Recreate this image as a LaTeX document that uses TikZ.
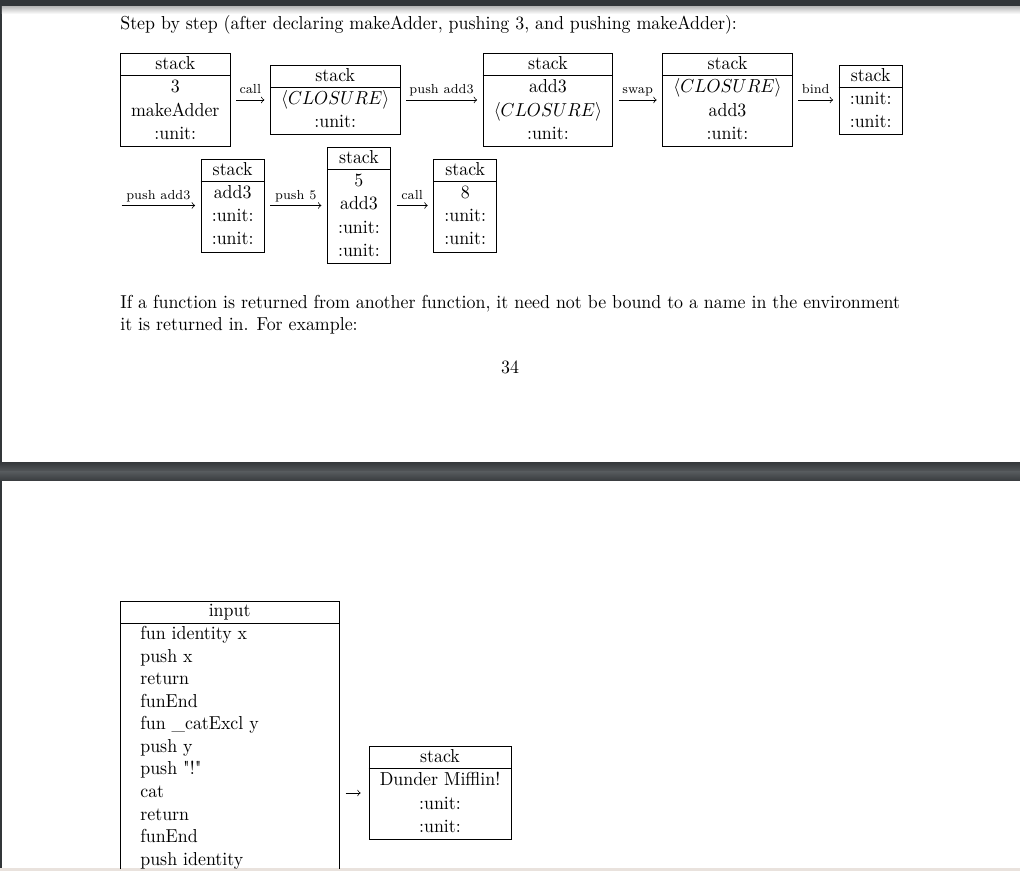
\documentclass[tikz,border=0pt]{standalone}
\usepackage{fontspec}
\usepackage{tikz}
\usetikzlibrary{shapes,shapes.multipart}
\usetikzlibrary{calc,arrows,positioning}

\definecolor{viewerbg}{HTML}{323639}
\definecolor{gapdark}{HTML}{383B3E}
\definecolor{gaplight}{HTML}{55595C}
\definecolor{pageedge}{HTML}{E9E2DD}

\newcommand{\rowstrut}{\vrule height 8.4pt depth 3.6pt width 0pt}
\newcommand{\linestrut}{\vrule height 8.2pt depth 3.45pt width 0pt}

\tikzset{
	stackbox/.style={rectangle split, rectangle split parts=#1,
		rectangle split draw splits=false, draw, inner xsep=6pt,
		inner ysep=0pt, font=\rowstrut},
	inputbox/.style={stackbox=12, rectangle split part align={center,left},
		inner xsep=11.2pt, minimum width=122.3pt, font=\linestrut},
	steparrow/.style={->, shorten <=3pt, shorten >=3pt},
	steplabel/.style={font=\scriptsize, anchor=base, inner sep=0pt, yshift=3.2pt},
	textline/.style={anchor=base west, inner sep=0pt}
}

\begin{document}
\begin{tikzpicture}[x=0.5596pt, y=-0.5333pt, xscale=0.953,
	every node/.append style={transform shape}]
\useasboundingbox (0,0) rectangle (1020,871);
%% viewer and pages
\fill[viewerbg] (0,0) rectangle (1020,871);
\fill[white] (2,7) rectangle (1020,463);
\shade[top color=black!25, bottom color=white] (2,7) rectangle (1020,14);
\shade[top color=gapdark, bottom color=gaplight] (0,463) rectangle (1020,472);
\shade[top color=gaplight, bottom color=gapdark] (0,472) rectangle (1020,481);
\fill[white] (2,481) rectangle (1020,868);
\fill[pageedge] (0,868) rectangle (1020,871);

%% page 34
\node[textline] (intro) at (120,29.3) {Step by step (after declaring makeAdder, pushing 3, and pushing makeAdder):};

\node[stackbox=4, anchor=west] (s1) at (120,100) {stack \nodepart{two} 3 \nodepart{three} makeAdder \nodepart{four} :unit:};
\node[stackbox=3, anchor=west] (s2) at (270,100) {stack \nodepart{two} $\langle CLOSURE\rangle$ \nodepart{three} :unit:};
\node[stackbox=4, anchor=west] (s3) at (482.7,100) {stack \nodepart{two} add3 \nodepart{three} $\langle CLOSURE\rangle$ \nodepart{four} :unit:};
\node[stackbox=4, anchor=west] (s4) at (662.3,100) {stack \nodepart{two} $\langle CLOSURE\rangle$ \nodepart{three} add3 \nodepart{four} :unit:};
\node[stackbox=3, anchor=west] (s5) at (838.7,100) {stack \nodepart{two} :unit: \nodepart{three} :unit:};
%%
\coordinate (start2) at (116.1,205.5);
\node[stackbox=4, anchor=west] (s6) at (200.7,205.5) {stack \nodepart{two} add3 \nodepart{three} :unit: \nodepart{four} :unit:};
\node[stackbox=5, anchor=west] (s7) at (327,205.5) {stack \nodepart{two} 5 \nodepart{three} add3 \nodepart{four} :unit: \nodepart{five} :unit:};
\node[stackbox=4, anchor=west] (s8) at (433.3,205.5) {stack \nodepart{two} 8 \nodepart{three} :unit: \nodepart{four} :unit:};

\path
\foreach \fromBox/\toBox/\stepName in {s1/s2/call, s2/s3/push add3, s3/s4/swap, s4/s5/bind, start2/s6/push add3, s6/s7/push 5, s7/s8/call}
{
	(\fromBox) edge[steparrow] node[steplabel] {\stepName} (\toBox)
};

\node[textline] (para1) at (120,309) {If a function is returned from another function, it need not be bound to a name in the environment};
\node[textline] (para2) at (120,331) {it is returned in. For example:};
\node[anchor=base, inner sep=0pt] (pagenum) at (510,374) {34};

%% page 35
\begin{scope}
\clip (2,481) rectangle (1020,868);
\node[inputbox, anchor=north west] (input) at (120,600.7) {input \nodepart{two} fun identity x \nodepart{three} push x \nodepart{four} return \nodepart{five} funEnd \nodepart{six} fun \_catExcl y \nodepart{seven} push y \nodepart{eight} push \textquotedbl!\textquotedbl \nodepart{nine} cat \nodepart{ten} return \nodepart{eleven} funEnd \nodepart{twelve} push identity};
\draw ([yshift=-11.85pt]input.north west) -- ([yshift=-11.85pt]input.north east);
\end{scope}
\node[stackbox=4, anchor=west] (result) at (368.7,793) {stack \nodepart{two} Dunder Mifflin! \nodepart{three} :unit: \nodepart{four} :unit:};
\draw[->, shorten <=3.4pt, shorten >=4.3pt] (input.east |- result.west) -- (result.west);

\foreach \boxName in {s1,s2,s3,s4,s5,s6,s7,s8,result}
	\draw ([yshift=-12pt]\boxName.north west) -- ([yshift=-12pt]\boxName.north east);
\end{tikzpicture}
\end{document}
